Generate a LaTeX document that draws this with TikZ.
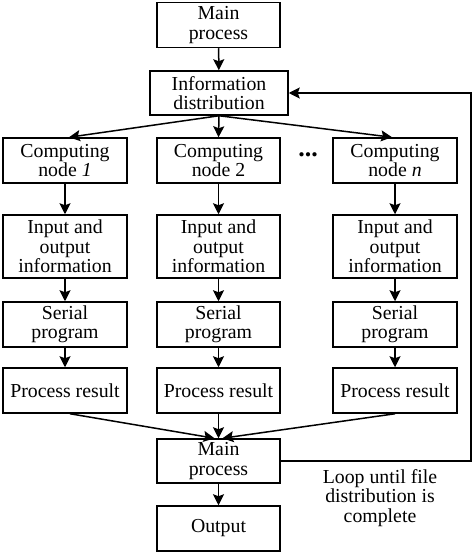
\documentclass[tikz,border=0pt]{standalone}
\usepackage{fontspec}
\setmainfont{Liberation Serif}
\usetikzlibrary{arrows.meta}
\begin{document}
\begin{tikzpicture}[x=1pt,y=-1pt,
  box/.style={draw,line width=1.5pt,align=center,inner sep=0pt,
    font=\fontsize{19.8}{19.5}\selectfont},
  arr/.style={line width=1.5pt,-{Stealth[length=11pt,width=11pt,inset=2pt]}},
  lnk/.style={line width=1.5pt}]
\useasboundingbox (0,0) rectangle (474,553);
\node[box,minimum width=123,minimum height=45] (mp1) at (218.5,25) {Main\\process};
\node[box,minimum width=138,minimum height=44] (info) at (219,93) {Information\\distribution};
\node[box,minimum width=124,minimum height=45] (c1) at (65,160.5) {Computing\\node \textit{1}};
\node[box,minimum width=123,minimum height=45] (c2) at (218.5,160.5) {Computing\\node 2};
\node[box,minimum width=124,minimum height=45] (cn) at (395,160.5) {Computing\\node \textit{n}};
\node[font=\fontsize{26}{26}\selectfont\bfseries,inner sep=0pt] (dots) at (308,155) {...};
\node[box,minimum width=124,minimum height=63] (io1) at (65,246.5) {Input and\\output\\information};
\node[box,minimum width=123,minimum height=63] (io2) at (218.5,246.5) {Input and\\output\\information};
\node[box,minimum width=124,minimum height=63] (ion) at (395,246.5) {Input and\\output\\information};
\node[box,minimum width=124,minimum height=45] (s1) at (65,324.5) {Serial\\program};
\node[box,minimum width=123,minimum height=45] (s2) at (218.5,324.5) {Serial\\program};
\node[box,minimum width=124,minimum height=45] (sn) at (395,324.5) {Serial\\program};
\node[box,minimum width=124,minimum height=45] (p1) at (65,390.5) {Process result};
\node[box,minimum width=123,minimum height=45] (p2) at (218.5,390.5) {Process result};
\node[box,minimum width=124,minimum height=45] (pn) at (395,390.5) {Process result};
\node[box,minimum width=123,minimum height=44] (mp2) at (218.5,461) {Main\\process};
\node[box,minimum width=123,minimum height=45] (out) at (218.5,528.5) {Output};
\node[align=center,font=\fontsize{19.8}{19.5}\selectfont] (loop) at (380,498) {Loop until file\\distribution is\\complete};
\coordinate (r) at (471,461);
\draw[arr] (mp1) -- (info);
\draw[arr] (info.south) -- ([xshift=4]c1.north);
\draw[arr] (info.south) -- (c2.north);
\draw[arr] (info.south) -- ([xshift=-3]cn.north);
\draw[arr] (c1) -- (io1);
\draw[arr] (c2) -- (io2);
\draw[arr] (cn) -- (ion);
\draw[arr] (io1) -- (s1);
\draw[arr] (io2) -- (s2);
\draw[arr] (ion) -- (sn);
\draw[arr] (s1) -- (p1);
\draw[arr] (s2) -- (p2);
\draw[arr] (sn) -- (pn);
\draw[arr] ([xshift=5]p1.south) -- ([xshift=-4]mp2.north);
\draw[arr] (p2.south) -- (mp2.north);
\draw[arr] (pn.south) -- ([xshift=4]mp2.north);
\draw[arr] (mp2) -- (out);
\draw[arr] (mp2.east) -- (r) |- (info.east);
\end{tikzpicture}
\end{document}
